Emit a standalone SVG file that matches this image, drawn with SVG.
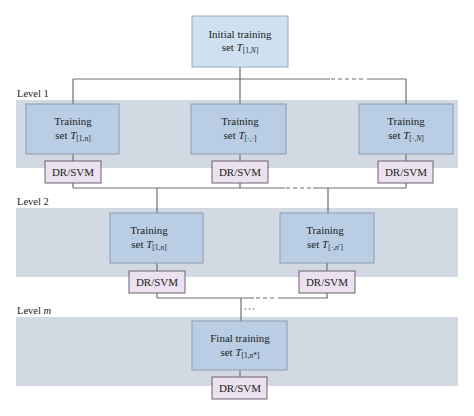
<svg xmlns="http://www.w3.org/2000/svg" width="474" height="416" viewBox="0 0 474 416">
<style>
.band{fill:#d3d9e3}
.box{fill:#b9cee4;stroke:#8b9cb0;stroke-width:1}
.top{fill:#cfe1f1;stroke:#98a9bb;stroke-width:1}
.dr{fill:#ece1ee;stroke:#6d6070;stroke-width:1}
.t{font-family:"Liberation Serif",serif;font-size:11px;fill:#222;text-anchor:middle}
.lv{font-family:"Liberation Serif",serif;font-size:10.5px;fill:#222}
.sub{font-size:7.5px}
.ln{stroke:#6e6e6e;stroke-width:1.2;fill:none}
.dash{stroke:#6e6e6e;stroke-width:1.2;fill:none;stroke-dasharray:4 3}
.dot{fill:#6e6e6e}
</style>
<rect width="474" height="416" fill="#fff"/>
<g id="bands">
<rect class="band" x="16" y="100" width="442" height="68"/>
<rect class="band" x="16" y="208" width="442" height="69"/>
<rect class="band" x="16" y="317" width="442" height="69"/>
<text class="lv" x="17" y="97">Level 1</text>
<text class="lv" x="17" y="205">Level 2</text>
<text class="lv" x="17" y="314">Level <tspan font-style="italic">m</tspan></text>
</g>
<g id="connectors">
<path class="ln" d="M240 67V79M73 79H330M367 79H406M73 79V104M240 79V104M406 79V104"/>
<path class="dash" d="M331 79H366"/>
<path class="ln" d="M73 154V161M240 154V161M406 154V161M73 183V188M240 183V188M406 183V188"/>
<path class="ln" d="M73 188H285M313 188H406M157 188V213M328 188V213"/>
<path class="dash" d="M286 188H312"/>
<path class="ln" d="M157 263V271M327 263V271M157 293V298M327 293V298"/>
<path class="ln" d="M157 298H254M278 298H328M241 298V321M240 370V377"/>
<path class="dash" d="M256 298H277"/>
<circle class="dot" cx="245.5" cy="309" r="0.8"/>
<circle class="dot" cx="249.5" cy="309" r="0.8"/>
<circle class="dot" cx="253.5" cy="309" r="0.8"/>
</g>
<g id="n0">
<rect class="top" x="192" y="16" width="96" height="51"/>
<text class="t" x="240" y="38">Initial training</text>
<text class="t" x="240" y="51">set <tspan font-style="italic">T</tspan><tspan class="sub" dy="2">[1,<tspan font-style="italic">N</tspan>]</tspan></text>
</g>
<g id="n1">
<rect class="box" x="26" y="104" width="93" height="50"/>
<text class="t" x="73" y="125">Training</text>
<text class="t" x="73" y="139">set <tspan font-style="italic">T</tspan><tspan class="sub" dy="2">[1,<tspan font-style="italic">n</tspan>]</tspan></text>
</g>
<g id="n1dr">
<rect class="dr" x="45" y="161" width="56" height="22"/>
<text class="t" x="73" y="176">DR/SVM</text>
</g>
<g id="n2">
<rect class="box" x="191" y="104" width="95" height="50"/>
<text class="t" x="240" y="125">Training</text>
<text class="t" x="240" y="139">set <tspan font-style="italic">T</tspan><tspan class="sub" dy="2">[·,·]</tspan></text>
</g>
<g id="n2dr">
<rect class="dr" x="212" y="161" width="56" height="22"/>
<text class="t" x="240" y="176">DR/SVM</text>
</g>
<g id="n3">
<rect class="box" x="359" y="104" width="94" height="50"/>
<text class="t" x="406" y="125">Training</text>
<text class="t" x="406" y="139">set <tspan font-style="italic">T</tspan><tspan class="sub" dy="2">[·,<tspan font-style="italic">N</tspan>]</tspan></text>
</g>
<g id="n3dr">
<rect class="dr" x="378" y="161" width="55" height="22"/>
<text class="t" x="406" y="176">DR/SVM</text>
</g>
<g id="n4">
<rect class="box" x="110" y="213" width="93" height="50"/>
<text class="t" x="149" y="234">Training</text>
<text class="t" x="149" y="248">set <tspan font-style="italic">T</tspan><tspan class="sub" dy="2">[1,<tspan font-style="italic">n</tspan>]</tspan></text>
</g>
<g id="n4dr">
<rect class="dr" x="129" y="271" width="56" height="22"/>
<text class="t" x="157" y="286">DR/SVM</text>
</g>
<g id="n5">
<rect class="box" x="280" y="213" width="94" height="50"/>
<text class="t" x="325" y="234">Training</text>
<text class="t" x="325" y="248">set <tspan font-style="italic">T</tspan><tspan class="sub" dy="2">[·,<tspan font-style="italic">n</tspan>′]</tspan></text>
</g>
<g id="n5dr">
<rect class="dr" x="299" y="271" width="56" height="22"/>
<text class="t" x="327" y="286">DR/SVM</text>
</g>
<g id="n6">
<rect class="box" x="192" y="321" width="95" height="49"/>
<text class="t" x="240" y="342">Final training</text>
<text class="t" x="240" y="356">set <tspan font-style="italic">T</tspan><tspan class="sub" dy="2">[1,<tspan font-style="italic">n</tspan>*]</tspan></text>
</g>
<g id="n6dr">
<rect class="dr" x="212" y="377" width="55" height="22"/>
<text class="t" x="240" y="392">DR/SVM</text>
</g>
</svg>
